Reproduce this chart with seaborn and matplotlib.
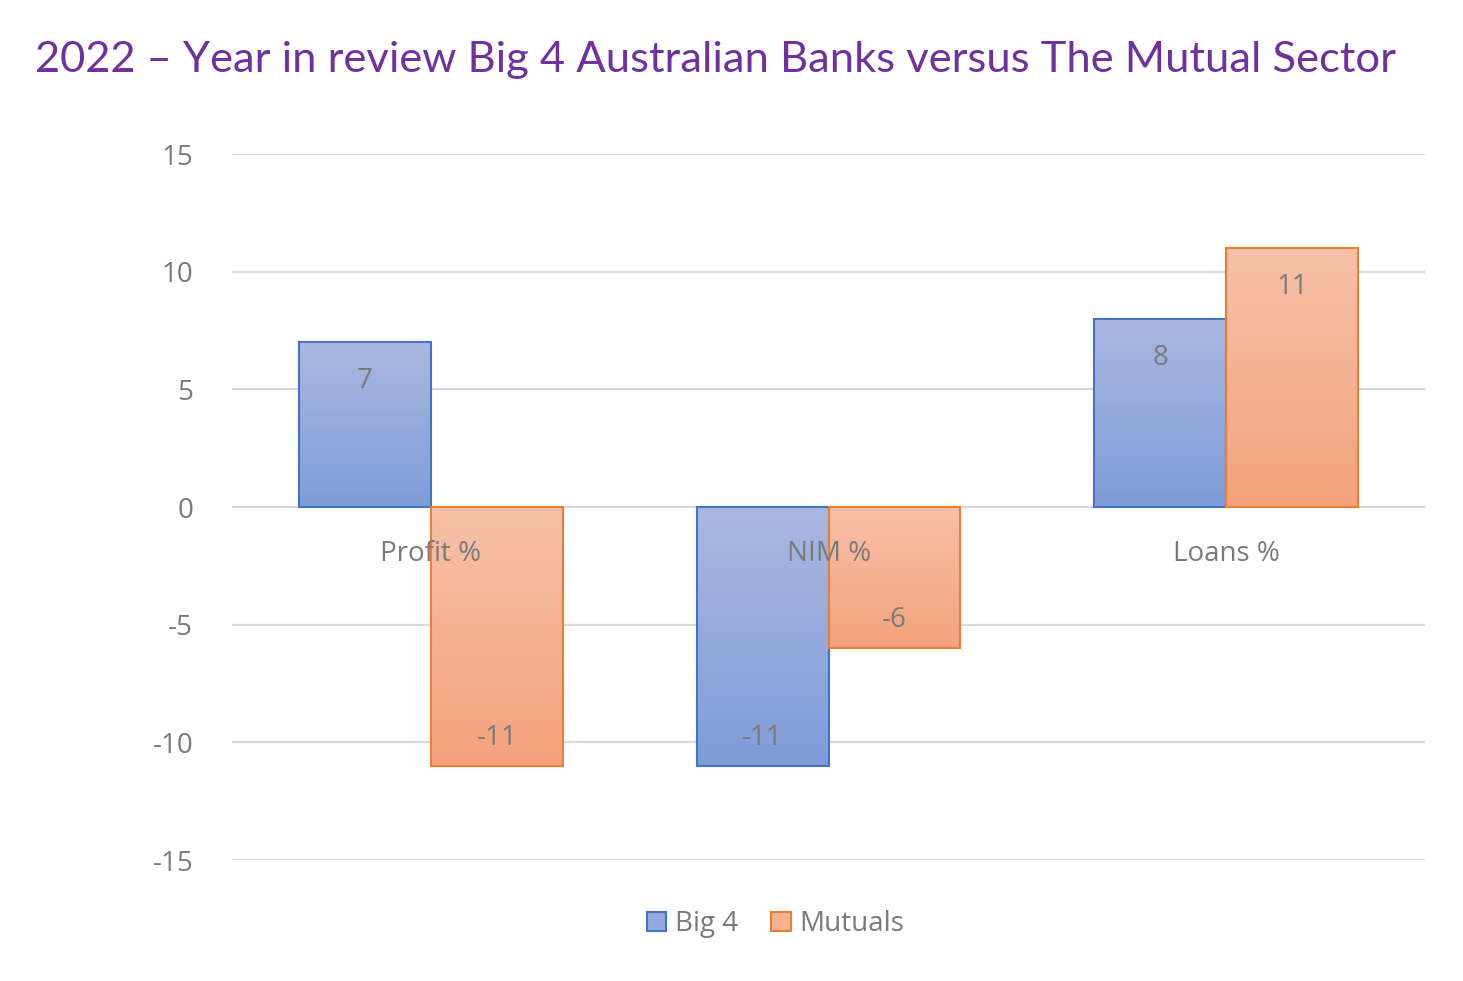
import matplotlib
matplotlib.use('Agg')

import matplotlib.pyplot as plt
import matplotlib.colors as mcolors
from matplotlib.patches import Patch
import numpy as np
import pandas as pd
import seaborn as sns

# data
categories = ['Profit %', 'NIM %', 'Loans %']
series = ['Big 4', 'Mutuals']
big4 = [7, -11, 8]
mutuals = [-11, -6, 11]
y_ticks = [-15, -10, -5, 0, 5, 10, 15]

title = '2022 \u2013 Year in review Big 4 Australian Banks versus The Mutual Sector'

edge_colors = {'Big 4': '#4472C4', 'Mutuals': '#ED7D31'}
grad_colors = {'Big 4': ('#AAB8E1', '#7F9CD8'),
               'Mutuals': ('#F7C1A8', '#F4A27C')}
text_grey = '#7A7A7A'

df = pd.DataFrame({
    'Category': categories * 2,
    'Series': [series[0]] * 3 + [series[1]] * 3,
    'Value': big4 + mutuals,
})

sns.set_theme(style='white')
plt.rcParams['font.family'] = ['Open Sans', 'DejaVu Sans']

fig = plt.figure(figsize=(14.63, 9.81), dpi=100)
ax = fig.add_axes([0.1586, 0.1233, 0.8155, 0.7197])

sns.barplot(data=df, x='Category', y='Value', hue='Series', order=categories,
            hue_order=series, width=0.663, legend=False, ax=ax,
            palette=edge_colors, errorbar=None)

# replace the flat fills with a per-bar vertical gradient
for name, container in zip(series, ax.containers):
    cmap = mcolors.LinearSegmentedColormap.from_list(name, grad_colors[name])
    grad = np.linspace(0, 1, 256).reshape(-1, 1)
    for bar in container:
        x0 = bar.get_x()
        w = bar.get_width()
        y0 = bar.get_y()
        h = bar.get_height()
        lo, hi = min(y0, y0 + h), max(y0, y0 + h)
        ax.imshow(grad, cmap=cmap, extent=[x0, x0 + w, lo, hi], origin='upper',
                  aspect='auto', zorder=1, interpolation='bilinear')
        bar.set_facecolor('none')
        bar.set_edgecolor(edge_colors[name])
        bar.set_linewidth(1.5)
        bar.set_zorder(2)
    for bar in container:
        v = bar.get_height()
        cx = bar.get_x() + bar.get_width() / 2
        ax.annotate('{:g}'.format(v), (cx, v), xytext=(0, -28 if v > 0 else 20),
                    textcoords='offset points', ha='center', va='center',
                    fontsize=20, color=text_grey, zorder=5)

ax.set_xlim(-0.5, 2.5)
ax.set_ylim(-15, 15)
ax.set_yticks(y_ticks)
ax.set_yticklabels([str(t) for t in y_ticks], fontsize=20, color=text_grey)
ax.tick_params(axis='y', length=0, pad=28)
ax.grid(axis='y', color='#D9D9D9', linewidth=1.6)
ax.set_axisbelow(True)
ax.set_xticks([])
ax.set_xlabel('')
ax.set_ylabel('')
for s in ax.spines.values():
    s.set_visible(False)

# category labels sit just under the zero line, on top of the bars
for i, cat in enumerate(categories):
    ax.annotate(cat, (i, 0), xytext=(0, -34), textcoords='offset points',
                ha='center', va='center', fontsize=20, color=text_grey, zorder=6)

handles = [Patch(facecolor=mcolors.to_hex(np.mean([mcolors.to_rgb(c) for c in grad_colors[n]], axis=0)),
                 edgecolor=edge_colors[n], linewidth=1.5, label=n) for n in series]
leg = fig.legend(handles=handles, loc='center', bbox_to_anchor=(0.53, 1 - 924 / 981),
                 ncol=2, frameon=False, fontsize=20, handlelength=0.7, handleheight=0.7,
                 handletextpad=0.3, columnspacing=1.2)
for t in leg.get_texts():
    t.set_color(text_grey)

fig.text(0.024, 1 - 60 / 981, title, ha='left', va='center', fontsize=31.3,
         color='#7030A0', family=['Lato', 'DejaVu Sans'])

fig.savefig('out.png', dpi=100)
plt.close()
